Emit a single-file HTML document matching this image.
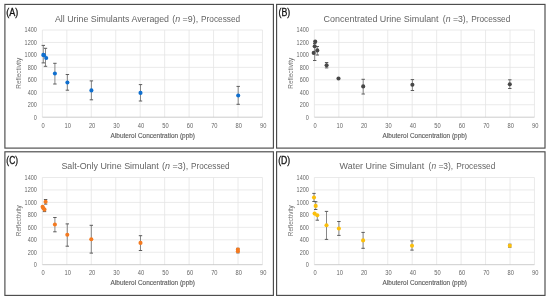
<!DOCTYPE html><html><head><meta charset="utf-8"><style>html,body{margin:0;padding:0;background:#fff;}svg{display:block;will-change:transform;}text{font-family:"Liberation Sans",sans-serif;}</style></head><body>
<svg width="550" height="302" viewBox="0 0 550 302">
<rect width="550" height="302" fill="#fff"/>
<g transform="translate(0,0)">
<line x1="42.4" y1="104.74" x2="262.45" y2="104.74" stroke="#e4e4e4" stroke-width="0.8"/>
<line x1="42.4" y1="92.29" x2="262.45" y2="92.29" stroke="#e4e4e4" stroke-width="0.8"/>
<line x1="42.4" y1="79.83" x2="262.45" y2="79.83" stroke="#e4e4e4" stroke-width="0.8"/>
<line x1="42.4" y1="67.37" x2="262.45" y2="67.37" stroke="#e4e4e4" stroke-width="0.8"/>
<line x1="42.4" y1="54.91" x2="262.45" y2="54.91" stroke="#e4e4e4" stroke-width="0.8"/>
<line x1="42.4" y1="42.46" x2="262.45" y2="42.46" stroke="#e4e4e4" stroke-width="0.8"/>
<line x1="42.4" y1="30.00" x2="262.45" y2="30.00" stroke="#e4e4e4" stroke-width="0.8"/>
<line x1="66.85" y1="30.00" x2="66.85" y2="117.2" stroke="#e4e4e4" stroke-width="0.8"/>
<line x1="91.30" y1="30.00" x2="91.30" y2="117.2" stroke="#e4e4e4" stroke-width="0.8"/>
<line x1="115.75" y1="30.00" x2="115.75" y2="117.2" stroke="#e4e4e4" stroke-width="0.8"/>
<line x1="140.20" y1="30.00" x2="140.20" y2="117.2" stroke="#e4e4e4" stroke-width="0.8"/>
<line x1="164.65" y1="30.00" x2="164.65" y2="117.2" stroke="#e4e4e4" stroke-width="0.8"/>
<line x1="189.10" y1="30.00" x2="189.10" y2="117.2" stroke="#e4e4e4" stroke-width="0.8"/>
<line x1="213.55" y1="30.00" x2="213.55" y2="117.2" stroke="#e4e4e4" stroke-width="0.8"/>
<line x1="238.00" y1="30.00" x2="238.00" y2="117.2" stroke="#e4e4e4" stroke-width="0.8"/>
<line x1="262.45" y1="30.00" x2="262.45" y2="117.2" stroke="#e4e4e4" stroke-width="0.8"/>
<line x1="42.4" y1="30.00" x2="42.4" y2="117.2" stroke="#e4e4e4" stroke-width="0.8"/>
<line x1="42.4" y1="117.2" x2="262.45" y2="117.2" stroke="#bfbfbf" stroke-width="0.8"/>
<text x="36.8" y="119.50" font-size="6.5" fill="#666666" text-anchor="end" textLength="3.05" lengthAdjust="spacingAndGlyphs">0</text>
<text x="36.8" y="107.04" font-size="6.5" fill="#666666" text-anchor="end" textLength="9.15" lengthAdjust="spacingAndGlyphs">200</text>
<text x="36.8" y="94.59" font-size="6.5" fill="#666666" text-anchor="end" textLength="9.15" lengthAdjust="spacingAndGlyphs">400</text>
<text x="36.8" y="82.13" font-size="6.5" fill="#666666" text-anchor="end" textLength="9.15" lengthAdjust="spacingAndGlyphs">600</text>
<text x="36.8" y="69.67" font-size="6.5" fill="#666666" text-anchor="end" textLength="9.15" lengthAdjust="spacingAndGlyphs">800</text>
<text x="36.8" y="57.21" font-size="6.5" fill="#666666" text-anchor="end" textLength="12.20" lengthAdjust="spacingAndGlyphs">1000</text>
<text x="36.8" y="44.76" font-size="6.5" fill="#666666" text-anchor="end" textLength="12.20" lengthAdjust="spacingAndGlyphs">1200</text>
<text x="36.8" y="32.30" font-size="6.5" fill="#666666" text-anchor="end" textLength="12.20" lengthAdjust="spacingAndGlyphs">1400</text>
<text x="43.20" y="127.7" font-size="6.5" fill="#666666" text-anchor="middle" textLength="3.20" lengthAdjust="spacingAndGlyphs">0</text>
<text x="67.65" y="127.7" font-size="6.5" fill="#666666" text-anchor="middle" textLength="6.40" lengthAdjust="spacingAndGlyphs">10</text>
<text x="92.10" y="127.7" font-size="6.5" fill="#666666" text-anchor="middle" textLength="6.40" lengthAdjust="spacingAndGlyphs">20</text>
<text x="116.55" y="127.7" font-size="6.5" fill="#666666" text-anchor="middle" textLength="6.40" lengthAdjust="spacingAndGlyphs">30</text>
<text x="141.00" y="127.7" font-size="6.5" fill="#666666" text-anchor="middle" textLength="6.40" lengthAdjust="spacingAndGlyphs">40</text>
<text x="165.45" y="127.7" font-size="6.5" fill="#666666" text-anchor="middle" textLength="6.40" lengthAdjust="spacingAndGlyphs">50</text>
<text x="189.90" y="127.7" font-size="6.5" fill="#666666" text-anchor="middle" textLength="6.40" lengthAdjust="spacingAndGlyphs">60</text>
<text x="214.35" y="127.7" font-size="6.5" fill="#666666" text-anchor="middle" textLength="6.40" lengthAdjust="spacingAndGlyphs">70</text>
<text x="238.80" y="127.7" font-size="6.5" fill="#666666" text-anchor="middle" textLength="6.40" lengthAdjust="spacingAndGlyphs">80</text>
<text x="263.25" y="127.7" font-size="6.5" fill="#666666" text-anchor="middle" textLength="6.40" lengthAdjust="spacingAndGlyphs">90</text>
<text x="152.8" y="138.1" font-size="6.6" fill="#595959" stroke="#595959" stroke-width="0.12" text-anchor="middle" textLength="84.4" lengthAdjust="spacingAndGlyphs">Albuterol Concentration (ppb)</text>
<text transform="translate(21.2,73.2) rotate(-90)" font-size="6.6" fill="#6e6e6e" text-anchor="middle" textLength="31" lengthAdjust="spacingAndGlyphs">Reflectivity</text>
<text x="6.34" y="16.3" font-size="10" fill="#111" stroke="#111" stroke-width="0.3" textLength="12.0" lengthAdjust="spacingAndGlyphs">(A)</text>
<line x1="43.3" y1="45.4" x2="43.3" y2="62.9" stroke="#7a7a7a" stroke-width="0.9"/>
<line x1="41.599999999999994" y1="45.4" x2="45.0" y2="45.4" stroke="#5c5c5c" stroke-width="1"/>
<line x1="41.599999999999994" y1="62.9" x2="45.0" y2="62.9" stroke="#5c5c5c" stroke-width="1"/>
<line x1="45.5" y1="48.3" x2="45.5" y2="66.3" stroke="#7a7a7a" stroke-width="0.9"/>
<line x1="43.8" y1="48.3" x2="47.2" y2="48.3" stroke="#5c5c5c" stroke-width="1"/>
<line x1="43.8" y1="66.3" x2="47.2" y2="66.3" stroke="#5c5c5c" stroke-width="1"/>
<line x1="54.9" y1="63.3" x2="54.9" y2="84" stroke="#7a7a7a" stroke-width="0.9"/>
<line x1="53.199999999999996" y1="63.3" x2="56.6" y2="63.3" stroke="#5c5c5c" stroke-width="1"/>
<line x1="53.199999999999996" y1="84" x2="56.6" y2="84" stroke="#5c5c5c" stroke-width="1"/>
<line x1="67.4" y1="74.5" x2="67.4" y2="90.2" stroke="#7a7a7a" stroke-width="0.9"/>
<line x1="65.7" y1="74.5" x2="69.10000000000001" y2="74.5" stroke="#5c5c5c" stroke-width="1"/>
<line x1="65.7" y1="90.2" x2="69.10000000000001" y2="90.2" stroke="#5c5c5c" stroke-width="1"/>
<line x1="91.4" y1="80.9" x2="91.4" y2="99.8" stroke="#7a7a7a" stroke-width="0.9"/>
<line x1="89.7" y1="80.9" x2="93.10000000000001" y2="80.9" stroke="#5c5c5c" stroke-width="1"/>
<line x1="89.7" y1="99.8" x2="93.10000000000001" y2="99.8" stroke="#5c5c5c" stroke-width="1"/>
<line x1="140.5" y1="84.6" x2="140.5" y2="101" stroke="#7a7a7a" stroke-width="0.9"/>
<line x1="138.8" y1="84.6" x2="142.2" y2="84.6" stroke="#5c5c5c" stroke-width="1"/>
<line x1="138.8" y1="101" x2="142.2" y2="101" stroke="#5c5c5c" stroke-width="1"/>
<line x1="238.2" y1="86.4" x2="238.2" y2="104.3" stroke="#7a7a7a" stroke-width="0.9"/>
<line x1="236.5" y1="86.4" x2="239.89999999999998" y2="86.4" stroke="#5c5c5c" stroke-width="1"/>
<line x1="236.5" y1="104.3" x2="239.89999999999998" y2="104.3" stroke="#5c5c5c" stroke-width="1"/>
<circle cx="43.3" cy="54.9" r="2.05" fill="#0f6fcf"/>
<circle cx="44.0" cy="55.3" r="2.05" fill="#0f6fcf"/>
<circle cx="46.2" cy="58.0" r="2.05" fill="#0f6fcf"/>
<circle cx="54.9" cy="73.5" r="2.05" fill="#0f6fcf"/>
<circle cx="67.4" cy="82.5" r="2.05" fill="#0f6fcf"/>
<circle cx="91.4" cy="90.4" r="2.05" fill="#0f6fcf"/>
<circle cx="140.5" cy="92.9" r="2.05" fill="#0f6fcf"/>
<circle cx="238.2" cy="95.5" r="2.05" fill="#0f6fcf"/>
</g>
<g transform="translate(272,0)">
<line x1="42.4" y1="104.74" x2="262.45" y2="104.74" stroke="#e4e4e4" stroke-width="0.8"/>
<line x1="42.4" y1="92.29" x2="262.45" y2="92.29" stroke="#e4e4e4" stroke-width="0.8"/>
<line x1="42.4" y1="79.83" x2="262.45" y2="79.83" stroke="#e4e4e4" stroke-width="0.8"/>
<line x1="42.4" y1="67.37" x2="262.45" y2="67.37" stroke="#e4e4e4" stroke-width="0.8"/>
<line x1="42.4" y1="54.91" x2="262.45" y2="54.91" stroke="#e4e4e4" stroke-width="0.8"/>
<line x1="42.4" y1="42.46" x2="262.45" y2="42.46" stroke="#e4e4e4" stroke-width="0.8"/>
<line x1="42.4" y1="30.00" x2="262.45" y2="30.00" stroke="#e4e4e4" stroke-width="0.8"/>
<line x1="66.85" y1="30.00" x2="66.85" y2="117.2" stroke="#e4e4e4" stroke-width="0.8"/>
<line x1="91.30" y1="30.00" x2="91.30" y2="117.2" stroke="#e4e4e4" stroke-width="0.8"/>
<line x1="115.75" y1="30.00" x2="115.75" y2="117.2" stroke="#e4e4e4" stroke-width="0.8"/>
<line x1="140.20" y1="30.00" x2="140.20" y2="117.2" stroke="#e4e4e4" stroke-width="0.8"/>
<line x1="164.65" y1="30.00" x2="164.65" y2="117.2" stroke="#e4e4e4" stroke-width="0.8"/>
<line x1="189.10" y1="30.00" x2="189.10" y2="117.2" stroke="#e4e4e4" stroke-width="0.8"/>
<line x1="213.55" y1="30.00" x2="213.55" y2="117.2" stroke="#e4e4e4" stroke-width="0.8"/>
<line x1="238.00" y1="30.00" x2="238.00" y2="117.2" stroke="#e4e4e4" stroke-width="0.8"/>
<line x1="262.45" y1="30.00" x2="262.45" y2="117.2" stroke="#e4e4e4" stroke-width="0.8"/>
<line x1="42.4" y1="30.00" x2="42.4" y2="117.2" stroke="#e4e4e4" stroke-width="0.8"/>
<line x1="42.4" y1="117.2" x2="262.45" y2="117.2" stroke="#bfbfbf" stroke-width="0.8"/>
<text x="36.8" y="119.50" font-size="6.5" fill="#666666" text-anchor="end" textLength="3.05" lengthAdjust="spacingAndGlyphs">0</text>
<text x="36.8" y="107.04" font-size="6.5" fill="#666666" text-anchor="end" textLength="9.15" lengthAdjust="spacingAndGlyphs">200</text>
<text x="36.8" y="94.59" font-size="6.5" fill="#666666" text-anchor="end" textLength="9.15" lengthAdjust="spacingAndGlyphs">400</text>
<text x="36.8" y="82.13" font-size="6.5" fill="#666666" text-anchor="end" textLength="9.15" lengthAdjust="spacingAndGlyphs">600</text>
<text x="36.8" y="69.67" font-size="6.5" fill="#666666" text-anchor="end" textLength="9.15" lengthAdjust="spacingAndGlyphs">800</text>
<text x="36.8" y="57.21" font-size="6.5" fill="#666666" text-anchor="end" textLength="12.20" lengthAdjust="spacingAndGlyphs">1000</text>
<text x="36.8" y="44.76" font-size="6.5" fill="#666666" text-anchor="end" textLength="12.20" lengthAdjust="spacingAndGlyphs">1200</text>
<text x="36.8" y="32.30" font-size="6.5" fill="#666666" text-anchor="end" textLength="12.20" lengthAdjust="spacingAndGlyphs">1400</text>
<text x="43.20" y="127.7" font-size="6.5" fill="#666666" text-anchor="middle" textLength="3.20" lengthAdjust="spacingAndGlyphs">0</text>
<text x="67.65" y="127.7" font-size="6.5" fill="#666666" text-anchor="middle" textLength="6.40" lengthAdjust="spacingAndGlyphs">10</text>
<text x="92.10" y="127.7" font-size="6.5" fill="#666666" text-anchor="middle" textLength="6.40" lengthAdjust="spacingAndGlyphs">20</text>
<text x="116.55" y="127.7" font-size="6.5" fill="#666666" text-anchor="middle" textLength="6.40" lengthAdjust="spacingAndGlyphs">30</text>
<text x="141.00" y="127.7" font-size="6.5" fill="#666666" text-anchor="middle" textLength="6.40" lengthAdjust="spacingAndGlyphs">40</text>
<text x="165.45" y="127.7" font-size="6.5" fill="#666666" text-anchor="middle" textLength="6.40" lengthAdjust="spacingAndGlyphs">50</text>
<text x="189.90" y="127.7" font-size="6.5" fill="#666666" text-anchor="middle" textLength="6.40" lengthAdjust="spacingAndGlyphs">60</text>
<text x="214.35" y="127.7" font-size="6.5" fill="#666666" text-anchor="middle" textLength="6.40" lengthAdjust="spacingAndGlyphs">70</text>
<text x="238.80" y="127.7" font-size="6.5" fill="#666666" text-anchor="middle" textLength="6.40" lengthAdjust="spacingAndGlyphs">80</text>
<text x="263.25" y="127.7" font-size="6.5" fill="#666666" text-anchor="middle" textLength="6.40" lengthAdjust="spacingAndGlyphs">90</text>
<text x="152.8" y="138.1" font-size="6.6" fill="#595959" stroke="#595959" stroke-width="0.12" text-anchor="middle" textLength="84.4" lengthAdjust="spacingAndGlyphs">Albuterol Concentration (ppb)</text>
<text transform="translate(21.2,73.2) rotate(-90)" font-size="6.6" fill="#6e6e6e" text-anchor="middle" textLength="31" lengthAdjust="spacingAndGlyphs">Reflectivity</text>
<text x="6.5" y="16.3" font-size="10" fill="#111" stroke="#111" stroke-width="0.3" textLength="11.7" lengthAdjust="spacingAndGlyphs">(B)</text>
<line x1="42.69999999999999" y1="43.5" x2="42.69999999999999" y2="60.5" stroke="#7a7a7a" stroke-width="0.9"/>
<line x1="40.999999999999986" y1="43.5" x2="44.39999999999999" y2="43.5" stroke="#5c5c5c" stroke-width="1"/>
<line x1="40.999999999999986" y1="60.5" x2="44.39999999999999" y2="60.5" stroke="#5c5c5c" stroke-width="1"/>
<line x1="45.30000000000001" y1="46.5" x2="45.30000000000001" y2="55" stroke="#7a7a7a" stroke-width="0.9"/>
<line x1="43.60000000000001" y1="46.5" x2="47.000000000000014" y2="46.5" stroke="#5c5c5c" stroke-width="1"/>
<line x1="43.60000000000001" y1="55" x2="47.000000000000014" y2="55" stroke="#5c5c5c" stroke-width="1"/>
<line x1="54.60000000000002" y1="62.5" x2="54.60000000000002" y2="67.9" stroke="#7a7a7a" stroke-width="0.9"/>
<line x1="52.90000000000002" y1="62.5" x2="56.300000000000026" y2="62.5" stroke="#5c5c5c" stroke-width="1"/>
<line x1="52.90000000000002" y1="67.9" x2="56.300000000000026" y2="67.9" stroke="#5c5c5c" stroke-width="1"/>
<line x1="91.19999999999999" y1="79.3" x2="91.19999999999999" y2="94" stroke="#7a7a7a" stroke-width="0.9"/>
<line x1="89.49999999999999" y1="79.3" x2="92.89999999999999" y2="79.3" stroke="#5c5c5c" stroke-width="1"/>
<line x1="89.49999999999999" y1="94" x2="92.89999999999999" y2="94" stroke="#5c5c5c" stroke-width="1"/>
<line x1="140.39999999999998" y1="79.6" x2="140.39999999999998" y2="90.5" stroke="#7a7a7a" stroke-width="0.9"/>
<line x1="138.7" y1="79.6" x2="142.09999999999997" y2="79.6" stroke="#5c5c5c" stroke-width="1"/>
<line x1="138.7" y1="90.5" x2="142.09999999999997" y2="90.5" stroke="#5c5c5c" stroke-width="1"/>
<line x1="237.8" y1="79.8" x2="237.8" y2="88.5" stroke="#7a7a7a" stroke-width="0.9"/>
<line x1="236.10000000000002" y1="79.8" x2="239.5" y2="79.8" stroke="#5c5c5c" stroke-width="1"/>
<line x1="236.10000000000002" y1="88.5" x2="239.5" y2="88.5" stroke="#5c5c5c" stroke-width="1"/>
<circle cx="43.19999999999999" cy="41.6" r="2.05" fill="#474747"/>
<circle cx="42.69999999999999" cy="46.2" r="2.05" fill="#474747"/>
<circle cx="45.30000000000001" cy="50.4" r="2.05" fill="#474747"/>
<circle cx="41.69999999999999" cy="52.9" r="2.05" fill="#474747"/>
<circle cx="54.60000000000002" cy="65.2" r="2.05" fill="#474747"/>
<circle cx="66.5" cy="78.5" r="2.05" fill="#474747"/>
<circle cx="91.19999999999999" cy="86.4" r="2.05" fill="#474747"/>
<circle cx="140.39999999999998" cy="84.8" r="2.05" fill="#474747"/>
<circle cx="237.8" cy="84.2" r="2.05" fill="#474747"/>
</g>
<g transform="translate(0,147.5)">
<line x1="42.4" y1="104.74" x2="262.45" y2="104.74" stroke="#e4e4e4" stroke-width="0.8"/>
<line x1="42.4" y1="92.29" x2="262.45" y2="92.29" stroke="#e4e4e4" stroke-width="0.8"/>
<line x1="42.4" y1="79.83" x2="262.45" y2="79.83" stroke="#e4e4e4" stroke-width="0.8"/>
<line x1="42.4" y1="67.37" x2="262.45" y2="67.37" stroke="#e4e4e4" stroke-width="0.8"/>
<line x1="42.4" y1="54.91" x2="262.45" y2="54.91" stroke="#e4e4e4" stroke-width="0.8"/>
<line x1="42.4" y1="42.46" x2="262.45" y2="42.46" stroke="#e4e4e4" stroke-width="0.8"/>
<line x1="42.4" y1="30.00" x2="262.45" y2="30.00" stroke="#e4e4e4" stroke-width="0.8"/>
<line x1="66.85" y1="30.00" x2="66.85" y2="117.2" stroke="#e4e4e4" stroke-width="0.8"/>
<line x1="91.30" y1="30.00" x2="91.30" y2="117.2" stroke="#e4e4e4" stroke-width="0.8"/>
<line x1="115.75" y1="30.00" x2="115.75" y2="117.2" stroke="#e4e4e4" stroke-width="0.8"/>
<line x1="140.20" y1="30.00" x2="140.20" y2="117.2" stroke="#e4e4e4" stroke-width="0.8"/>
<line x1="164.65" y1="30.00" x2="164.65" y2="117.2" stroke="#e4e4e4" stroke-width="0.8"/>
<line x1="189.10" y1="30.00" x2="189.10" y2="117.2" stroke="#e4e4e4" stroke-width="0.8"/>
<line x1="213.55" y1="30.00" x2="213.55" y2="117.2" stroke="#e4e4e4" stroke-width="0.8"/>
<line x1="238.00" y1="30.00" x2="238.00" y2="117.2" stroke="#e4e4e4" stroke-width="0.8"/>
<line x1="262.45" y1="30.00" x2="262.45" y2="117.2" stroke="#e4e4e4" stroke-width="0.8"/>
<line x1="42.4" y1="30.00" x2="42.4" y2="117.2" stroke="#e4e4e4" stroke-width="0.8"/>
<line x1="42.4" y1="117.2" x2="262.45" y2="117.2" stroke="#bfbfbf" stroke-width="0.8"/>
<text x="36.8" y="119.50" font-size="6.5" fill="#666666" text-anchor="end" textLength="3.05" lengthAdjust="spacingAndGlyphs">0</text>
<text x="36.8" y="107.04" font-size="6.5" fill="#666666" text-anchor="end" textLength="9.15" lengthAdjust="spacingAndGlyphs">200</text>
<text x="36.8" y="94.59" font-size="6.5" fill="#666666" text-anchor="end" textLength="9.15" lengthAdjust="spacingAndGlyphs">400</text>
<text x="36.8" y="82.13" font-size="6.5" fill="#666666" text-anchor="end" textLength="9.15" lengthAdjust="spacingAndGlyphs">600</text>
<text x="36.8" y="69.67" font-size="6.5" fill="#666666" text-anchor="end" textLength="9.15" lengthAdjust="spacingAndGlyphs">800</text>
<text x="36.8" y="57.21" font-size="6.5" fill="#666666" text-anchor="end" textLength="12.20" lengthAdjust="spacingAndGlyphs">1000</text>
<text x="36.8" y="44.76" font-size="6.5" fill="#666666" text-anchor="end" textLength="12.20" lengthAdjust="spacingAndGlyphs">1200</text>
<text x="36.8" y="32.30" font-size="6.5" fill="#666666" text-anchor="end" textLength="12.20" lengthAdjust="spacingAndGlyphs">1400</text>
<text x="43.20" y="127.7" font-size="6.5" fill="#666666" text-anchor="middle" textLength="3.20" lengthAdjust="spacingAndGlyphs">0</text>
<text x="67.65" y="127.7" font-size="6.5" fill="#666666" text-anchor="middle" textLength="6.40" lengthAdjust="spacingAndGlyphs">10</text>
<text x="92.10" y="127.7" font-size="6.5" fill="#666666" text-anchor="middle" textLength="6.40" lengthAdjust="spacingAndGlyphs">20</text>
<text x="116.55" y="127.7" font-size="6.5" fill="#666666" text-anchor="middle" textLength="6.40" lengthAdjust="spacingAndGlyphs">30</text>
<text x="141.00" y="127.7" font-size="6.5" fill="#666666" text-anchor="middle" textLength="6.40" lengthAdjust="spacingAndGlyphs">40</text>
<text x="165.45" y="127.7" font-size="6.5" fill="#666666" text-anchor="middle" textLength="6.40" lengthAdjust="spacingAndGlyphs">50</text>
<text x="189.90" y="127.7" font-size="6.5" fill="#666666" text-anchor="middle" textLength="6.40" lengthAdjust="spacingAndGlyphs">60</text>
<text x="214.35" y="127.7" font-size="6.5" fill="#666666" text-anchor="middle" textLength="6.40" lengthAdjust="spacingAndGlyphs">70</text>
<text x="238.80" y="127.7" font-size="6.5" fill="#666666" text-anchor="middle" textLength="6.40" lengthAdjust="spacingAndGlyphs">80</text>
<text x="263.25" y="127.7" font-size="6.5" fill="#666666" text-anchor="middle" textLength="6.40" lengthAdjust="spacingAndGlyphs">90</text>
<text x="152.8" y="137.4" font-size="6.6" fill="#595959" stroke="#595959" stroke-width="0.12" text-anchor="middle" textLength="84.4" lengthAdjust="spacingAndGlyphs">Albuterol Concentration (ppb)</text>
<text transform="translate(21.2,73.2) rotate(-90)" font-size="6.6" fill="#6e6e6e" text-anchor="middle" textLength="31" lengthAdjust="spacingAndGlyphs">Reflectivity</text>
<text x="6.35" y="16.5" font-size="10" fill="#111" stroke="#111" stroke-width="0.3" textLength="11.6" lengthAdjust="spacingAndGlyphs">(C)</text>
<line x1="45.6" y1="52.0" x2="45.6" y2="56.599999999999994" stroke="#7a7a7a" stroke-width="0.9"/>
<line x1="43.9" y1="52.0" x2="47.300000000000004" y2="52.0" stroke="#5c5c5c" stroke-width="1"/>
<line x1="43.9" y1="56.599999999999994" x2="47.300000000000004" y2="56.599999999999994" stroke="#5c5c5c" stroke-width="1"/>
<line x1="44.5" y1="62.099999999999994" x2="44.5" y2="64.1" stroke="#7a7a7a" stroke-width="0.9"/>
<line x1="42.8" y1="64.1" x2="46.2" y2="64.1" stroke="#5c5c5c" stroke-width="1"/>
<line x1="54.9" y1="70.0" x2="54.9" y2="84.30000000000001" stroke="#7a7a7a" stroke-width="0.9"/>
<line x1="53.199999999999996" y1="70.0" x2="56.6" y2="70.0" stroke="#5c5c5c" stroke-width="1"/>
<line x1="53.199999999999996" y1="84.30000000000001" x2="56.6" y2="84.30000000000001" stroke="#5c5c5c" stroke-width="1"/>
<line x1="67.3" y1="76.4" x2="67.3" y2="98.69999999999999" stroke="#7a7a7a" stroke-width="0.9"/>
<line x1="65.6" y1="76.4" x2="69.0" y2="76.4" stroke="#5c5c5c" stroke-width="1"/>
<line x1="65.6" y1="98.69999999999999" x2="69.0" y2="98.69999999999999" stroke="#5c5c5c" stroke-width="1"/>
<line x1="91.3" y1="77.80000000000001" x2="91.3" y2="105.6" stroke="#7a7a7a" stroke-width="0.9"/>
<line x1="89.6" y1="77.80000000000001" x2="93.0" y2="77.80000000000001" stroke="#5c5c5c" stroke-width="1"/>
<line x1="89.6" y1="105.6" x2="93.0" y2="105.6" stroke="#5c5c5c" stroke-width="1"/>
<line x1="140.5" y1="88.19999999999999" x2="140.5" y2="103.0" stroke="#7a7a7a" stroke-width="0.9"/>
<line x1="138.8" y1="88.19999999999999" x2="142.2" y2="88.19999999999999" stroke="#5c5c5c" stroke-width="1"/>
<line x1="138.8" y1="103.0" x2="142.2" y2="103.0" stroke="#5c5c5c" stroke-width="1"/>
<line x1="237.9" y1="100.80000000000001" x2="237.9" y2="105.4" stroke="#7a7a7a" stroke-width="0.9"/>
<line x1="236.20000000000002" y1="100.80000000000001" x2="239.6" y2="100.80000000000001" stroke="#5c5c5c" stroke-width="1"/>
<line x1="236.20000000000002" y1="105.4" x2="239.6" y2="105.4" stroke="#5c5c5c" stroke-width="1"/>
<circle cx="45.6" cy="54.19999999999999" r="2.05" fill="#f47a20"/>
<circle cx="42.6" cy="59.30000000000001" r="2.05" fill="#f47a20"/>
<circle cx="43.4" cy="60.69999999999999" r="2.05" fill="#f47a20"/>
<circle cx="44.5" cy="62.099999999999994" r="2.05" fill="#f47a20"/>
<circle cx="54.9" cy="77.0" r="2.05" fill="#f47a20"/>
<circle cx="67.3" cy="87.30000000000001" r="2.05" fill="#f47a20"/>
<circle cx="91.3" cy="91.69999999999999" r="2.05" fill="#f47a20"/>
<circle cx="140.5" cy="95.4" r="2.05" fill="#f47a20"/>
<circle cx="237.9" cy="102.1" r="2.05" fill="#f47a20"/>
<circle cx="237.9" cy="103.69999999999999" r="2.05" fill="#f47a20"/>
</g>
<g transform="translate(272,147.5)">
<line x1="42.4" y1="104.74" x2="262.45" y2="104.74" stroke="#e4e4e4" stroke-width="0.8"/>
<line x1="42.4" y1="92.29" x2="262.45" y2="92.29" stroke="#e4e4e4" stroke-width="0.8"/>
<line x1="42.4" y1="79.83" x2="262.45" y2="79.83" stroke="#e4e4e4" stroke-width="0.8"/>
<line x1="42.4" y1="67.37" x2="262.45" y2="67.37" stroke="#e4e4e4" stroke-width="0.8"/>
<line x1="42.4" y1="54.91" x2="262.45" y2="54.91" stroke="#e4e4e4" stroke-width="0.8"/>
<line x1="42.4" y1="42.46" x2="262.45" y2="42.46" stroke="#e4e4e4" stroke-width="0.8"/>
<line x1="42.4" y1="30.00" x2="262.45" y2="30.00" stroke="#e4e4e4" stroke-width="0.8"/>
<line x1="66.85" y1="30.00" x2="66.85" y2="117.2" stroke="#e4e4e4" stroke-width="0.8"/>
<line x1="91.30" y1="30.00" x2="91.30" y2="117.2" stroke="#e4e4e4" stroke-width="0.8"/>
<line x1="115.75" y1="30.00" x2="115.75" y2="117.2" stroke="#e4e4e4" stroke-width="0.8"/>
<line x1="140.20" y1="30.00" x2="140.20" y2="117.2" stroke="#e4e4e4" stroke-width="0.8"/>
<line x1="164.65" y1="30.00" x2="164.65" y2="117.2" stroke="#e4e4e4" stroke-width="0.8"/>
<line x1="189.10" y1="30.00" x2="189.10" y2="117.2" stroke="#e4e4e4" stroke-width="0.8"/>
<line x1="213.55" y1="30.00" x2="213.55" y2="117.2" stroke="#e4e4e4" stroke-width="0.8"/>
<line x1="238.00" y1="30.00" x2="238.00" y2="117.2" stroke="#e4e4e4" stroke-width="0.8"/>
<line x1="262.45" y1="30.00" x2="262.45" y2="117.2" stroke="#e4e4e4" stroke-width="0.8"/>
<line x1="42.4" y1="30.00" x2="42.4" y2="117.2" stroke="#e4e4e4" stroke-width="0.8"/>
<line x1="42.4" y1="117.2" x2="262.45" y2="117.2" stroke="#bfbfbf" stroke-width="0.8"/>
<text x="36.8" y="119.50" font-size="6.5" fill="#666666" text-anchor="end" textLength="3.05" lengthAdjust="spacingAndGlyphs">0</text>
<text x="36.8" y="107.04" font-size="6.5" fill="#666666" text-anchor="end" textLength="9.15" lengthAdjust="spacingAndGlyphs">200</text>
<text x="36.8" y="94.59" font-size="6.5" fill="#666666" text-anchor="end" textLength="9.15" lengthAdjust="spacingAndGlyphs">400</text>
<text x="36.8" y="82.13" font-size="6.5" fill="#666666" text-anchor="end" textLength="9.15" lengthAdjust="spacingAndGlyphs">600</text>
<text x="36.8" y="69.67" font-size="6.5" fill="#666666" text-anchor="end" textLength="9.15" lengthAdjust="spacingAndGlyphs">800</text>
<text x="36.8" y="57.21" font-size="6.5" fill="#666666" text-anchor="end" textLength="12.20" lengthAdjust="spacingAndGlyphs">1000</text>
<text x="36.8" y="44.76" font-size="6.5" fill="#666666" text-anchor="end" textLength="12.20" lengthAdjust="spacingAndGlyphs">1200</text>
<text x="36.8" y="32.30" font-size="6.5" fill="#666666" text-anchor="end" textLength="12.20" lengthAdjust="spacingAndGlyphs">1400</text>
<text x="43.20" y="127.7" font-size="6.5" fill="#666666" text-anchor="middle" textLength="3.20" lengthAdjust="spacingAndGlyphs">0</text>
<text x="67.65" y="127.7" font-size="6.5" fill="#666666" text-anchor="middle" textLength="6.40" lengthAdjust="spacingAndGlyphs">10</text>
<text x="92.10" y="127.7" font-size="6.5" fill="#666666" text-anchor="middle" textLength="6.40" lengthAdjust="spacingAndGlyphs">20</text>
<text x="116.55" y="127.7" font-size="6.5" fill="#666666" text-anchor="middle" textLength="6.40" lengthAdjust="spacingAndGlyphs">30</text>
<text x="141.00" y="127.7" font-size="6.5" fill="#666666" text-anchor="middle" textLength="6.40" lengthAdjust="spacingAndGlyphs">40</text>
<text x="165.45" y="127.7" font-size="6.5" fill="#666666" text-anchor="middle" textLength="6.40" lengthAdjust="spacingAndGlyphs">50</text>
<text x="189.90" y="127.7" font-size="6.5" fill="#666666" text-anchor="middle" textLength="6.40" lengthAdjust="spacingAndGlyphs">60</text>
<text x="214.35" y="127.7" font-size="6.5" fill="#666666" text-anchor="middle" textLength="6.40" lengthAdjust="spacingAndGlyphs">70</text>
<text x="238.80" y="127.7" font-size="6.5" fill="#666666" text-anchor="middle" textLength="6.40" lengthAdjust="spacingAndGlyphs">80</text>
<text x="263.25" y="127.7" font-size="6.5" fill="#666666" text-anchor="middle" textLength="6.40" lengthAdjust="spacingAndGlyphs">90</text>
<text x="152.8" y="137.4" font-size="6.6" fill="#595959" stroke="#595959" stroke-width="0.12" text-anchor="middle" textLength="84.4" lengthAdjust="spacingAndGlyphs">Albuterol Concentration (ppb)</text>
<text transform="translate(21.2,73.2) rotate(-90)" font-size="6.6" fill="#6e6e6e" text-anchor="middle" textLength="31" lengthAdjust="spacingAndGlyphs">Reflectivity</text>
<text x="6.13" y="16.5" font-size="10" fill="#111" stroke="#111" stroke-width="0.3" textLength="12.0" lengthAdjust="spacingAndGlyphs">(D)</text>
<line x1="42.0" y1="45.900000000000006" x2="42.0" y2="54.0" stroke="#7a7a7a" stroke-width="0.9"/>
<line x1="40.3" y1="45.900000000000006" x2="43.7" y2="45.900000000000006" stroke="#5c5c5c" stroke-width="1"/>
<line x1="40.3" y1="54.0" x2="43.7" y2="54.0" stroke="#5c5c5c" stroke-width="1"/>
<line x1="43.69999999999999" y1="54.19999999999999" x2="43.69999999999999" y2="62.0" stroke="#7a7a7a" stroke-width="0.9"/>
<line x1="41.999999999999986" y1="54.19999999999999" x2="45.39999999999999" y2="54.19999999999999" stroke="#5c5c5c" stroke-width="1"/>
<line x1="41.999999999999986" y1="62.0" x2="45.39999999999999" y2="62.0" stroke="#5c5c5c" stroke-width="1"/>
<line x1="45.30000000000001" y1="67.69999999999999" x2="45.30000000000001" y2="72.69999999999999" stroke="#7a7a7a" stroke-width="0.9"/>
<line x1="43.60000000000001" y1="72.69999999999999" x2="47.000000000000014" y2="72.69999999999999" stroke="#5c5c5c" stroke-width="1"/>
<line x1="54.5" y1="63.900000000000006" x2="54.5" y2="91.9" stroke="#7a7a7a" stroke-width="0.9"/>
<line x1="52.8" y1="63.900000000000006" x2="56.2" y2="63.900000000000006" stroke="#5c5c5c" stroke-width="1"/>
<line x1="52.8" y1="91.9" x2="56.2" y2="91.9" stroke="#5c5c5c" stroke-width="1"/>
<line x1="66.89999999999998" y1="74.0" x2="66.89999999999998" y2="87.9" stroke="#7a7a7a" stroke-width="0.9"/>
<line x1="65.19999999999997" y1="74.0" x2="68.59999999999998" y2="74.0" stroke="#5c5c5c" stroke-width="1"/>
<line x1="65.19999999999997" y1="87.9" x2="68.59999999999998" y2="87.9" stroke="#5c5c5c" stroke-width="1"/>
<line x1="91.10000000000002" y1="84.9" x2="91.10000000000002" y2="100.80000000000001" stroke="#7a7a7a" stroke-width="0.9"/>
<line x1="89.40000000000002" y1="84.9" x2="92.80000000000003" y2="84.9" stroke="#5c5c5c" stroke-width="1"/>
<line x1="89.40000000000002" y1="100.80000000000001" x2="92.80000000000003" y2="100.80000000000001" stroke="#5c5c5c" stroke-width="1"/>
<line x1="140" y1="93.4" x2="140" y2="102.6" stroke="#7a7a7a" stroke-width="0.9"/>
<line x1="138.3" y1="93.4" x2="141.7" y2="93.4" stroke="#5c5c5c" stroke-width="1"/>
<line x1="138.3" y1="102.6" x2="141.7" y2="102.6" stroke="#5c5c5c" stroke-width="1"/>
<line x1="237.8" y1="96.69999999999999" x2="237.8" y2="99.69999999999999" stroke="#7a7a7a" stroke-width="0.9"/>
<line x1="236.10000000000002" y1="96.69999999999999" x2="239.5" y2="96.69999999999999" stroke="#5c5c5c" stroke-width="1"/>
<line x1="236.10000000000002" y1="99.69999999999999" x2="239.5" y2="99.69999999999999" stroke="#5c5c5c" stroke-width="1"/>
<circle cx="42.0" cy="50.0" r="2.05" fill="#fbbf0c"/>
<circle cx="43.69999999999999" cy="58.400000000000006" r="2.05" fill="#fbbf0c"/>
<circle cx="42.60000000000002" cy="66.1" r="2.05" fill="#fbbf0c"/>
<circle cx="45.30000000000001" cy="67.69999999999999" r="2.05" fill="#fbbf0c"/>
<circle cx="54.5" cy="77.80000000000001" r="2.05" fill="#fbbf0c"/>
<circle cx="66.89999999999998" cy="81.0" r="2.05" fill="#fbbf0c"/>
<circle cx="91.10000000000002" cy="92.9" r="2.05" fill="#fbbf0c"/>
<circle cx="140" cy="98.19999999999999" r="2.05" fill="#fbbf0c"/>
<circle cx="237.8" cy="98.19999999999999" r="2.05" fill="#fbbf0c"/>
</g>
<rect x="4.9" y="4.4" width="268.50" height="143.70" fill="none" stroke="#4a4a4a" stroke-width="1.15"/>
<rect x="276.6" y="4.4" width="268.40" height="143.70" fill="none" stroke="#4a4a4a" stroke-width="1.15"/>
<rect x="4.9" y="151.8" width="268.50" height="143.60" fill="none" stroke="#4a4a4a" stroke-width="1.15"/>
<rect x="276.6" y="151.8" width="268.40" height="143.60" fill="none" stroke="#4a4a4a" stroke-width="1.15"/>
<text x="54.99" y="21.5" font-size="9.3" fill="#646464" textLength="114.04" lengthAdjust="spacingAndGlyphs">All Urine Simulants Averaged</text>
<text x="172.2" y="21.5" font-size="9.3" fill="#646464" textLength="25.97" lengthAdjust="spacingAndGlyphs">(<tspan font-style="italic">n</tspan> =9),</text>
<text x="201.0" y="21.5" font-size="9.3" fill="#646464" textLength="39.15" lengthAdjust="spacingAndGlyphs">Processed</text>
<text x="323.6" y="21.5" font-size="9.3" fill="#646464" textLength="115.0" lengthAdjust="spacingAndGlyphs">Concentrated Urine Simulant</text>
<text x="442.77" y="21.5" font-size="9.3" fill="#646464" textLength="25.42" lengthAdjust="spacingAndGlyphs">(<tspan font-style="italic">n</tspan> =3),</text>
<text x="471.19" y="21.5" font-size="9.3" fill="#646464" textLength="39.16" lengthAdjust="spacingAndGlyphs">Processed</text>
<text x="61.4" y="168.9" font-size="9.3" fill="#646464" textLength="97.41" lengthAdjust="spacingAndGlyphs">Salt-Only Urine Simulant</text>
<text x="161.94" y="168.9" font-size="9.3" fill="#646464" textLength="26.28" lengthAdjust="spacingAndGlyphs">(<tspan font-style="italic">n</tspan> =3),</text>
<text x="191.0" y="168.9" font-size="9.3" fill="#646464" textLength="38.56" lengthAdjust="spacingAndGlyphs">Processed</text>
<text x="339.6" y="168.9" font-size="9.3" fill="#646464" textLength="84.62" lengthAdjust="spacingAndGlyphs">Water Urine Simulant</text>
<text x="428.58" y="168.9" font-size="9.3" fill="#646464" textLength="24.57" lengthAdjust="spacingAndGlyphs">(<tspan font-style="italic">n</tspan> =3),</text>
<text x="456.19" y="168.9" font-size="9.3" fill="#646464" textLength="39.16" lengthAdjust="spacingAndGlyphs">Processed</text>
</svg></body></html>
